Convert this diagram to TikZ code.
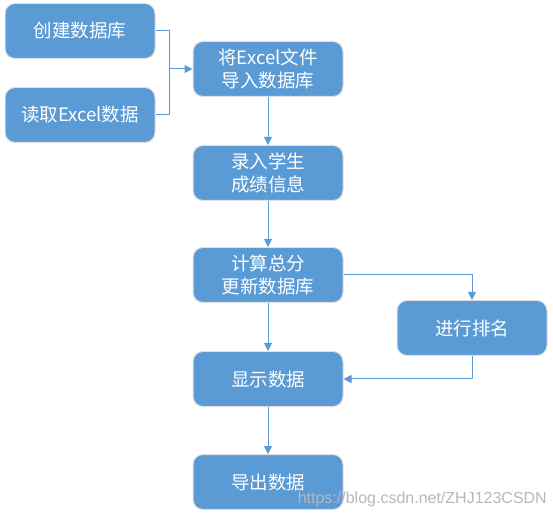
\documentclass[tikz,border=0pt]{standalone}
\usepackage{fontspec}
\setmainfont{Noto Sans CJK SC}
\newfontfamily\wmfont{Liberation Sans}
\usetikzlibrary{arrows.meta,positioning}
\definecolor{boxblue}{HTML}{5B9BD5}
\definecolor{lineblue}{HTML}{5B9BD5}
\tikzset{
  flowbox/.style={rectangle, rounded corners=10pt, fill=boxblue, draw=black!12, line width=1pt,
    minimum width=150pt, minimum height=55pt, inner sep=0pt, text=white,
    font=\fontsize{18.5pt}{23pt}\selectfont, align=center},
  conn/.style={draw=lineblue, line width=1pt, -{Triangle[length=8pt,width=8pt]}},
  plain/.style={draw=lineblue, line width=1pt}
}
\begin{document}
\begin{tikzpicture}[x=1pt,y=1pt]
\useasboundingbox (0,0) rectangle (553,519);
\fill[white] (0,0) rectangle (553,519);
\node[flowbox] (create) at (80,488) {创建数据库};
\node[flowbox] (read) at (80,404) {读取Excel数据};
\node[flowbox] (import) at (268,450) {将Excel文件\\导入数据库};
\node[flowbox] (input) at (268,346) {录入学生\\成绩信息};
\node[flowbox] (calc) at (268,244) {计算总分\\更新数据库};
\node[flowbox] (rank) at (472,191) {进行排名};
\node[flowbox] (show) at (268,140) {显示数据};
\node[flowbox] (export) at (268,37) {导出数据};
\coordinate (join) at (169,450);
\draw[plain] (create.east) -| (join);
\draw[plain] (read.east) -| (join);
\draw[conn] (join) -- (import.west);
\draw[conn] (import) -- (input);
\draw[conn] (input) -- (calc);
\draw[conn] (calc) -- (show);
\draw[conn] (show) -- (export);
\draw[conn] (calc.east) -| (rank.north);
\draw[conn] (rank.south) |- (show.east);
\node[text=black!28, font=\wmfont\fontsize{16pt}{18pt}\selectfont, anchor=east, inner sep=0pt] (wm) at (547,20) {https://blog.csdn.net/ZHJ123CSDN};
\end{tikzpicture}
\end{document}
